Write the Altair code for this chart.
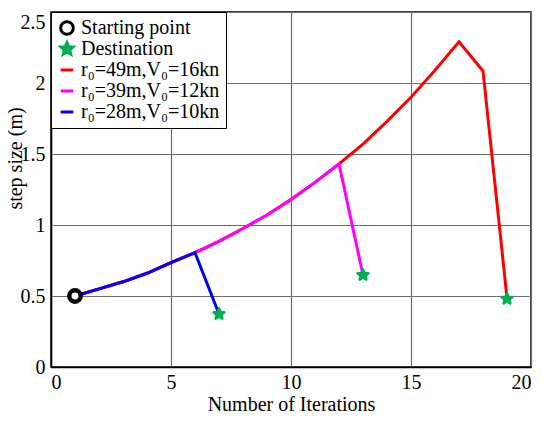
import pandas as pd
import altair as alt

# values
iters = list(range(1, 20))
step_red = [0.50, 0.55, 0.60, 0.66, 0.735, 0.805, 0.885, 0.975, 1.07, 1.18,
            1.30, 1.43, 1.57, 1.73, 1.90, 2.09, 2.29, 2.085, 0.485]
step_magenta = [0.50, 0.55, 0.60, 0.66, 0.735, 0.805, 0.885, 0.975, 1.07, 1.18,
                1.30, 1.43, 0.648]
step_blue = [0.50, 0.55, 0.60, 0.66, 0.735, 0.805, 0.373]

start_x = [1]
start_y = [0.50]
dest_x = [7, 13, 19]
dest_y = [0.373, 0.648, 0.48]

names = ["Starting point", "Destination",
         "r\u2080=49m,V\u2080=16kn", "r\u2080=39m,V\u2080=12kn", "r\u2080=28m,V\u2080=10kn"]
stroke_colors = ["black", "#00b050", "#ff0000", "#ff00ff", "#0000ff"]
fill_colors = ["white", "#00b050", "#ff0000", "#ff00ff", "#0000ff"]
star = ("M0,-1L0.265,-0.364L0.951,-0.309L0.428,0.139L0.588,0.809L0,0.45"
        "L-0.588,0.809L-0.428,0.139L-0.951,-0.309L-0.265,-0.364Z")
shapes = ["circle", star, "stroke", "stroke", "stroke"]

FONT = "Liberation Serif"

red = pd.DataFrame({"it": iters, "step": step_red, "series": names[2]})
mag = pd.DataFrame({"it": iters[:len(step_magenta)], "step": step_magenta, "series": names[3]})
blue = pd.DataFrame({"it": iters[:len(step_blue)], "step": step_blue, "series": names[4]})
start = pd.DataFrame({"it": start_x, "step": start_y, "series": names[0]})
dest = pd.DataFrame({"it": dest_x, "step": dest_y, "series": names[1]})

x = alt.X("it:Q", title="Number of Iterations",
          scale=alt.Scale(domain=[0, 20], nice=False),
          axis=alt.Axis(values=[0, 5, 10, 15, 20], labelFont=FONT, titleFont=FONT,
                        labelPadding=5, titlePadding=2))
y = alt.Y("step:Q", title="step size (m)",
          scale=alt.Scale(domain=[0, 2.5], nice=False),
          axis=alt.Axis(values=[0, 0.5, 1, 1.5, 2, 2.5], format="~g",
                        labelFont=FONT, titleFont=FONT, titleX=-26, titleY=146,
                        labelPadding=6,
                        labelBaseline={"condition": {"test": "datum.value == 2.5", "value": "top"},
                                       "value": "middle"}))

legend = alt.Legend(title=None, orient="top-left", offset=0,
                    fillColor="white", strokeColor="black", padding=6,
                    labelFont=FONT, labelFontSize=20, labelColor="black",
                    labelOffset=4, rowPadding=1, clipHeight=20,
                    symbolSize=160, symbolStrokeWidth=3, labelLimit=300)
stroke_enc = alt.Stroke("series:N", scale=alt.Scale(domain=names, range=stroke_colors), legend=legend)
fill_enc = alt.Fill("series:N", scale=alt.Scale(domain=names, range=fill_colors), legend=legend)
shape_enc = alt.Shape("series:N", scale=alt.Scale(domain=names, range=shapes), legend=legend)


def line_layer(df):
    return alt.Chart(df).mark_line(strokeWidth=3).encode(x=x, y=y, stroke=stroke_enc)


lines = line_layer(red) + line_layer(mag) + line_layer(blue)

start_pt = alt.Chart(start).mark_point(size=130, strokeWidth=4.5, opacity=1, filled=False).encode(
    x=x, y=y, stroke=stroke_enc, fill=fill_enc, shape=shape_enc)
dest_pt = alt.Chart(dest).mark_point(size=130, strokeWidth=2.5, strokeJoin="round", opacity=1).encode(
    x=x, y=y, stroke=stroke_enc, fill=fill_enc, shape=shape_enc)

chart = (lines + start_pt + dest_pt).properties(
    width=480, height=355,
    autosize="none",
    padding={"left": 43, "top": 4, "right": 3, "bottom": 47},
).configure(
    font=FONT
).configure_view(
    stroke="black", strokeWidth=1.5
).configure_axis(
    labelFont=FONT, titleFont=FONT,
    labelFontSize=20, titleFontSize=20, titleFontWeight="normal",
    labelColor="black", titleColor="black",
    domainColor="black", domainWidth=1.5,
    gridColor="#6e6e6e", gridWidth=1.2, gridOpacity=1,
    ticks=False
)

chart.save("out.html", embed_options={"renderer": "svg", "actions": False})
